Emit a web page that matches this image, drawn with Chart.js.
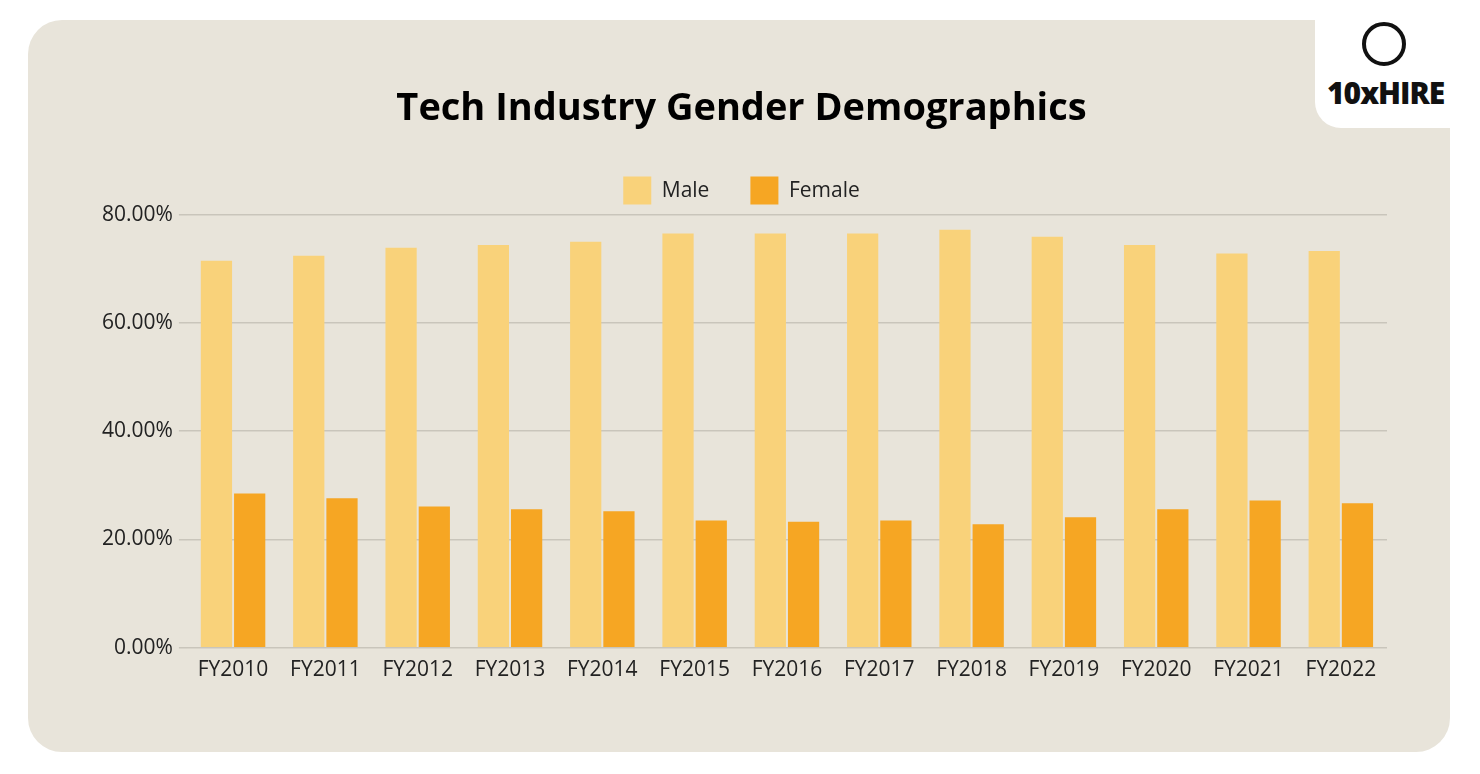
<!DOCTYPE html>
<html>
<head>
<meta charset="utf-8">
<script src="https://cdn.jsdelivr.net/npm/chart.js@4"></script>
<style>
  body { margin: 0; background: #fff; width: 1480px; height: 774px; overflow: hidden; font-family: "Open Sans", sans-serif; }
  #panel { position: absolute; left: 28px; top: 20px; width: 1422px; height: 732px; background: #e8e4da; border-radius: 34px; }
  #logo { position: absolute; left: 1315px; top: 0px; width: 165px; height: 128px; background: #fff; border-bottom-left-radius: 26px; }
  #logo .ring { position: absolute; left: 47px; top: 22px; width: 36px; height: 36px; border: 4px solid #111; border-radius: 50%; }
  #logo .txt { position: absolute; left: 12px; top: 72px; font: 800 30px "Open Sans", sans-serif; color: #111; letter-spacing: -1px; }
  #wrap { position: absolute; left: 0; top: 0; width: 1480px; height: 774px; }
</style>
</head>
<body>
<div id="panel"></div>
<div id="logo"><div class="ring"></div><div class="txt">10xHIRE</div></div>
<div id="wrap"><canvas id="chart"></canvas></div>
<script>
var years = ['FY2010', 'FY2011', 'FY2012', 'FY2013', 'FY2014', 'FY2015', 'FY2016', 'FY2017', 'FY2018', 'FY2019', 'FY2020', 'FY2021', 'FY2022'];
var male = [71.5, 72.4, 73.9, 74.4, 75.0, 76.5, 76.5, 76.5, 77.2, 75.9, 74.4, 72.8, 73.3];
var female = [28.5, 27.6, 26.1, 25.6, 25.2, 23.5, 23.3, 23.5, 22.8, 24.1, 25.6, 27.2, 26.7];
var yTicks = [0, 20, 40, 60, 80];

var maleColor = '#f9d27a';
var femaleColor = '#f6a623';

new Chart(document.getElementById('chart'), {
    type: 'bar',
    data: {
        labels: years,
        datasets: [
            { label: 'Male', data: male, backgroundColor: maleColor },
            { label: 'Female', data: female, backgroundColor: femaleColor }
        ]
    },
    options: {
        responsive: true,
        maintainAspectRatio: false,
        animation: false,
        datasets: { bar: { categoryPercentage: 0.72, barPercentage: 0.94 } },
        layout: { padding: { top: 86, left: 96, right: 93, bottom: 89 } },
        plugins: {
            title: {
                display: true,
                text: 'Tech Industry Gender Demographics',
                color: '#000',
                font: { family: 'Open Sans', size: 38, weight: 'bold' },
                padding: { top: 0, bottom: 4 }
            },
            legend: {
                labels: {
                    color: '#222',
                    font: { family: 'Open Sans', size: 21 },
                    boxWidth: 28, boxHeight: 28, padding: 41
                }
            },
            tooltip: { enabled: false }
        },
        scales: {
            x: {
                grid: { display: false },
                border: { display: false },
                ticks: { color: '#222', font: { family: 'Open Sans', size: 21 }, padding: 2 }
            },
            y: {
                min: 0, max: 80,
                afterBuildTicks: function(axis) { axis.ticks = yTicks.map(function(v) { return { value: v }; }); },
                grid: { color: '#c9c5bb', lineWidth: 1.5 },
                border: { display: false },
                ticks: {
                    color: '#222', font: { family: 'Open Sans', size: 21 }, padding: 6,
                    callback: function(v) { return v.toFixed(2) + '%'; }
                }
            }
        }
    }
});
</script>
</body>
</html>
